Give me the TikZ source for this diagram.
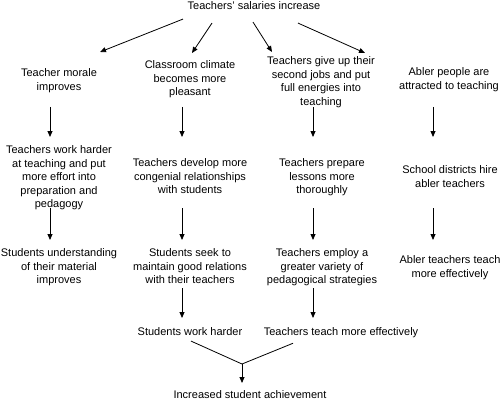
\documentclass[tikz,border=0pt]{standalone}
\usepackage{fontspec}
\setmainfont{Liberation Sans}
\usetikzlibrary{arrows.meta, calc}

\begin{document}
\begin{tikzpicture}[
    x=1pt, y=-1pt,
    txt/.style={inner sep=0pt, outer sep=0pt, align=center, anchor=north, font=\fontsize{11}{13.4}\selectfont},
    arrow/.style={-{Triangle[length=6pt, width=5pt]}, line width=0.8pt, draw=black},
    link/.style={line width=0.8pt, draw=black}
  ]
    \useasboundingbox (0,0) rectangle (500,401);

    % Nodes
    \node[txt] (salary) at (254,2) {Teachers' salaries increase};

    \node[txt] (morale) at (59,69) {Teacher morale\\improves};
    \node[txt] (climate) at (190,61) {Classroom climate\\becomes more\\pleasant};
    \node[txt] (jobs) at (321,57) {Teachers give up their\\second jobs and put\\full energies into\\teaching};
    \node[txt] (attract) at (449,68) {Abler people are\\attracted to teaching};

    \node[txt] (harder) at (59,146) {Teachers work harder\\at teaching and put\\more effort into\\preparation and\\pedagogy};
    \node[txt] (congenial) at (190,159) {Teachers develop more\\congenial relationships\\with students};
    \node[txt] (prepare) at (322,159) {Teachers prepare\\lessons more\\thoroughly};
    \node[txt] (hire) at (450,166) {School districts hire\\abler teachers};

    \node[txt] (understand) at (59,249) {Students understanding\\of their material\\improves};
    \node[txt] (relations) at (190,249) {Students seek to\\maintain good relations\\with their teachers};
    \node[txt] (variety) at (322,249) {Teachers employ a\\greater variety of\\pedagogical strategies};
    \node[txt] (ablerteach) at (450,256) {Abler teachers teach\\more effectively};

    \node[txt] (workhard) at (190,328) {Students work harder};
    \node[txt] (teachmore) at (341,328) {Teachers teach more effectively};

    \node[txt] (achieve) at (250,391) {Increased student achievement};

    % Row levels for the vertical arrows
    \coordinate (r1top) at (0,107);
    \coordinate (r1bot) at (0,137);
    \coordinate (r2top) at (0,208);
    \coordinate (r2bot) at (0,240);
    \coordinate (r3top) at (0,288);
    \coordinate (r3bot) at (0,318);
    \coordinate (join) at (242,364);

    % Connections from the top
    \draw[arrow] ([xshift=-71pt,yshift=-9pt]salary.south) -- ([xshift=41pt,yshift=17pt]morale.north);
    \draw[arrow] ([xshift=-42pt,yshift=-13pt]salary.south) -- ([xshift=2pt,yshift=8pt]climate.north);
    \draw[arrow] ([xshift=-1pt,yshift=-12pt]salary.south) -- ([xshift=-49pt,yshift=5pt]jobs.north);
    \draw[arrow] ([xshift=44pt,yshift=-13pt]salary.south) -- ([xshift=-84pt,yshift=15pt]attract.north);

    % Columns
    \draw[arrow] ([xshift=-9pt]morale.center |- r1top) -- ([xshift=-9pt]harder.center |- r1bot);
    \draw[arrow] ([xshift=-8pt]climate.center |- r1top) -- ([xshift=-8pt]congenial.center |- r1bot);
    \draw[arrow] ([xshift=-8pt]jobs.center |- r1top) -- ([xshift=-9pt]prepare.center |- r1bot);
    \draw[arrow] ([xshift=-16pt]attract.center |- r1top) -- ([xshift=-17pt]hire.center |- r1bot);

    \draw[arrow] ([xshift=-9pt]harder.center |- r2top) -- ([xshift=-9pt]understand.center |- r2bot);
    \draw[arrow] ([xshift=-8pt]congenial.center |- r2top) -- ([xshift=-8pt]relations.center |- r2bot);
    \draw[arrow] ([xshift=-9pt]prepare.center |- r2top) -- ([xshift=-9pt]variety.center |- r2bot);
    \draw[arrow] ([xshift=-17pt]hire.center |- r2top) -- ([xshift=-17pt]ablerteach.center |- r2bot);

    \draw[arrow] ([xshift=-8pt]relations.center |- r3top) -- ([xshift=-8pt]workhard.center |- r3bot);
    \draw[arrow] ([xshift=-9pt]variety.center |- r3top) -- ([xshift=-28pt]teachmore.center |- r3bot);

    % Merge
    \draw[link] ([xshift=1pt,yshift=-5pt]workhard.south) -- (join);
    \draw[link] ([xshift=-48pt,yshift=-5pt]teachmore.south) -- (join);
    \draw[arrow] (join) -- ([yshift=8pt]achieve.north -| join);

  \end{tikzpicture}
\end{document}
